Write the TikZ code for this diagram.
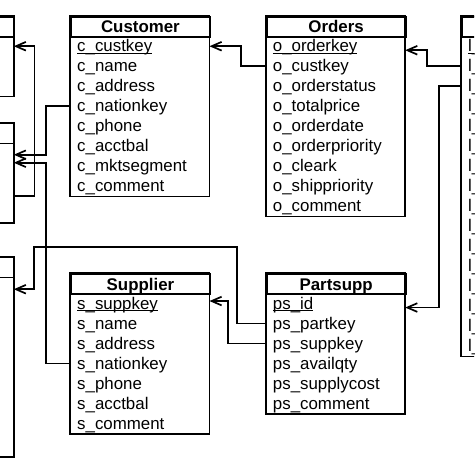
\documentclass[tikz,border=0pt]{standalone}
\usepackage{fontspec}
\setmainfont{Liberation Sans}
\usetikzlibrary{arrows.meta, calc}

\newcommand{\keyline}[1]{\setbox0\hbox{#1}\rlap{\rule[-1.9pt]{\wd0}{0.8pt}}\box0}

\tikzset{
    tabletitle/.style={draw, line width=1.6pt, anchor=north west, minimum width=4.17cm, minimum height=0.6cm,
        inner sep=0pt, text height=0.36cm, text depth=0pt, font=\fontsize{14.4}{17}\selectfont\bfseries},
    tablerow/.style={anchor=north west, text width=3.75cm, inner xsep=0.21cm, inner ysep=0pt, minimum height=0.6cm,
        text height=0.41cm, text depth=0.07cm, align=left, font=\fontsize{14.4}{17}\selectfont},
    tableframe/.style={draw, line width=1.6pt},
    fkey/.style={line width=1.45pt, -{Straight Barb[length=3mm, width=2.6mm]}},
}

\begin{document}
\begin{tikzpicture}[x=0.03cm, y=-0.03cm]
    \useasboundingbox (0,0) rectangle (474,474);
    \clip (0,0) rectangle (474,474);

    \node[tabletitle] (region) at (-125.7,16) {};
    \foreach \i in {1,...,3}
        \node[tablerow] (region-\i) at (-125.7,{16+20*\i}) {};
    \draw[tableframe] (region.north west) rectangle (region-3.south east);

    \node[tabletitle] (nation) at (-125.7,122.5) {};
    \foreach \i in {1,...,4}
        \node[tablerow] (nation-\i) at (-125.7,{122.5+20*\i}) {};
    \draw[tableframe] (nation.north west) rectangle (nation-4.south east);

    \node[tabletitle] (part) at (-125.7,256.5) {};
    \foreach \i in {1,...,9}
        \node[tablerow] (part-\i) at (-125.7,{256.5+20*\i}) {};
    \draw[tableframe] (part.north west) rectangle (part-9.south east);

    \node[tabletitle] (customer) at (70,16) {Customer};
    \foreach \f [count=\i] in {\keyline{c\_custkey}, c\_name, c\_address, c\_nationkey,
            c\_phone, c\_acctbal, c\_mktsegment, c\_comment}
        \node[tablerow] (customer-\i) at (70,{16+20*\i}) {\f};
    \draw[tableframe] (customer.north west) rectangle (customer-8.south east);

    \node[tabletitle] (orders) at (265.7,16) {Orders};
    \foreach \f [count=\i] in {\keyline{o\_orderkey}, o\_custkey, o\_orderstatus, o\_totalprice,
            o\_orderdate, o\_orderpriority, o\_cleark, o\_shippriority, o\_comment}
        \node[tablerow] (orders-\i) at (265.7,{16+20*\i}) {\f};
    \draw[tableframe] (orders.north west) rectangle (orders-9.south east);

    \node[tabletitle] (supplier) at (70,273.3) {Supplier};
    \foreach \f [count=\i] in {\keyline{s\_suppkey}, s\_name, s\_address, s\_nationkey,
            s\_phone, s\_acctbal, s\_comment}
        \node[tablerow] (supplier-\i) at (70,{273.3+20*\i}) {\f};
    \draw[tableframe] (supplier.north west) rectangle (supplier-7.south east);

    \node[tabletitle] (partsupp) at (265.7,273.3) {Partsupp};
    \foreach \f [count=\i] in {\keyline{ps\_id}, ps\_partkey, ps\_suppkey, ps\_availqty,
            ps\_supplycost, ps\_comment}
        \node[tablerow] (partsupp-\i) at (265.7,{273.3+20*\i}) {\f};
    \draw[tableframe] (partsupp.north west) rectangle (partsupp-6.south east);

    \node[tabletitle] (lineitem) at (461,16) {};
    \node[tablerow] (lineitem-1) at (461,36) {\keyline{l\_}};
    \foreach \i in {2,...,16}
        \node[tablerow] (lineitem-\i) at (461,{16+20*\i}) {l\_};
    \draw[tableframe] (lineitem.north west) rectangle (lineitem-16.south east);

    \draw[fkey] (orders-2.west) -- ++(-24.4,0) |- (customer-1.east);
    \draw[fkey] (lineitem-2.west) -- ++(-34.3,0) |- ($(orders-1.east)+(0,4)$);
    \draw[fkey] (lineitem-3.west) -- ++(-21.7,0) |- ($(partsupp-1.east)+(0,4)$);
    \draw[fkey] (customer-4.west) -- ++(-24,0) |- ($(nation-1.east)+(0,2)$);
    \draw[fkey] (supplier-4.west) -- ++(-24,0) |- ($(nation-1.east)+(0,10)$);
    \draw[fkey] ($(nation-3.east)+(0,3)$) -- ++(20.7,0) |- (region-1.east);
    \coordinate (partjog) at (34,247.3);
    \draw[fkey] (partsupp-2.west) -- ++(-28.4,0) |- (partjog) |- ($(part-1.east)+(0,2.5)$);
    \draw[fkey] (partsupp-3.west) -- ++(-37.4,0) |- ($(supplier-1.east)+(0,-2.5)$);

\end{tikzpicture}
\end{document}
